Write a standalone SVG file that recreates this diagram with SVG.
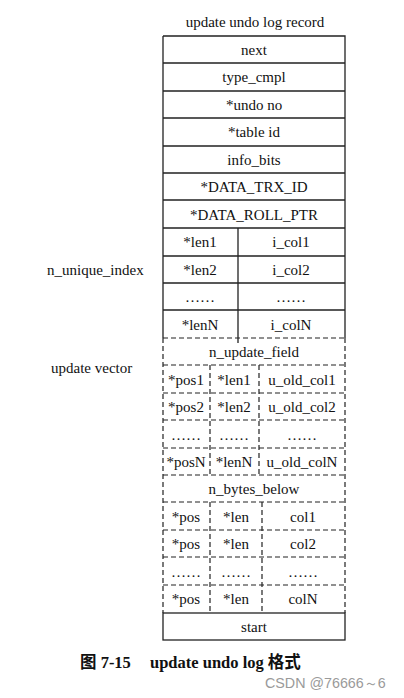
<svg xmlns="http://www.w3.org/2000/svg" width="404" height="698" viewBox="0 0 404 698">
<style>
text{font-family:"Liberation Serif","Times New Roman",serif;font-size:15px;fill:#111;text-anchor:middle}
.s{stroke:#222;stroke-width:1.3;fill:none}
.d{stroke:#222;stroke-width:1.2;fill:none;stroke-dasharray:5 3}
.lbl{text-anchor:start}
.cap{font-weight:bold;font-size:16.5px;text-anchor:start;font-family:"Liberation Serif","Noto Sans CJK SC",serif}
.wm{font-family:"Liberation Sans",Arial,sans-serif;font-size:14.3px;fill:#9a9a9a;text-anchor:start}
</style>
<rect width="404" height="698" fill="#fff"/>
<text id="title" x="255" y="27">update undo log record</text>
<text id="lbl-index" class="lbl" x="47" y="275">n_unique_index</text>
<text id="lbl-vector" class="lbl" x="51" y="373">update vector</text>
<g id="connectors">
<path class="s" d="M163 36H345V338M163 36V338M163 63H345M163 91H345M163 118H345M163 146H345M163 173H345M163 200H345M163 228H345M163 256H345M163 283H345M163 310H345M238 228V343"/>
<path class="d" d="M163 338H345M163 338V613M345 338V613M163 365H345M163 393H345M163 420H345M163 448H345M163 475H345M163 502H345M163 530H345M163 557H345M163 585H345"/>
<path class="d" d="M210 365V475M259 365V475M210 502V613M262 502V613"/>
<rect class="s" x="163" y="613" width="182" height="27"/>
</g>
<g id="n-next"><text x="254" y="55">next</text></g>
<g id="n-type"><text x="254" y="82">type_cmpl</text></g>
<g id="n-undono"><text x="254" y="110">*undo no</text></g>
<g id="n-tableid"><text x="254" y="137">*table id</text></g>
<g id="n-info"><text x="254" y="165">info_bits</text></g>
<g id="n-trx"><text x="254" y="192">*DATA_TRX_ID</text></g>
<g id="n-roll"><text x="254" y="220">*DATA_ROLL_PTR</text></g>
<g id="n-idx1"><text x="200" y="247">*len1</text><text x="291" y="247">i_col1</text></g>
<g id="n-idx2"><text x="200" y="275">*len2</text><text x="291" y="275">i_col2</text></g>
<g id="n-idx3"><text x="200" y="302">……</text><text x="291" y="302">……</text></g>
<g id="n-idxN"><text x="200" y="330">*lenN</text><text x="291" y="330">i_colN</text></g>
<g id="n-nupd"><text x="254" y="357">n_update_field</text></g>
<g id="n-upd1"><text x="186" y="385">*pos1</text><text x="234" y="385">*len1</text><text x="302" y="385">u_old_col1</text></g>
<g id="n-upd2"><text x="186" y="412">*pos2</text><text x="234" y="412">*len2</text><text x="302" y="412">u_old_col2</text></g>
<g id="n-upd3"><text x="186" y="440">……</text><text x="234" y="440">……</text><text x="302" y="440">……</text></g>
<g id="n-updN"><text x="186" y="467">*posN</text><text x="234" y="467">*lenN</text><text x="302" y="467">u_old_colN</text></g>
<g id="n-nbytes"><text x="254" y="494">n_bytes_below</text></g>
<g id="n-b1"><text x="186" y="522">*pos</text><text x="236" y="522">*len</text><text x="303" y="522">col1</text></g>
<g id="n-b2"><text x="186" y="549">*pos</text><text x="236" y="549">*len</text><text x="303" y="549">col2</text></g>
<g id="n-b3"><text x="186" y="577">……</text><text x="236" y="577">……</text><text x="303" y="577">……</text></g>
<g id="n-bN"><text x="186" y="604">*pos</text><text x="236" y="604">*len</text><text x="303" y="604">colN</text></g>
<g id="n-start"><text x="254" y="632">start</text></g>
<text class="cap" x="80" y="668">图 7-15</text>
<text class="cap" x="150" y="668">update undo log 格式</text>
<text class="wm" x="265" y="688">CSDN @76666～6</text>
</svg>
